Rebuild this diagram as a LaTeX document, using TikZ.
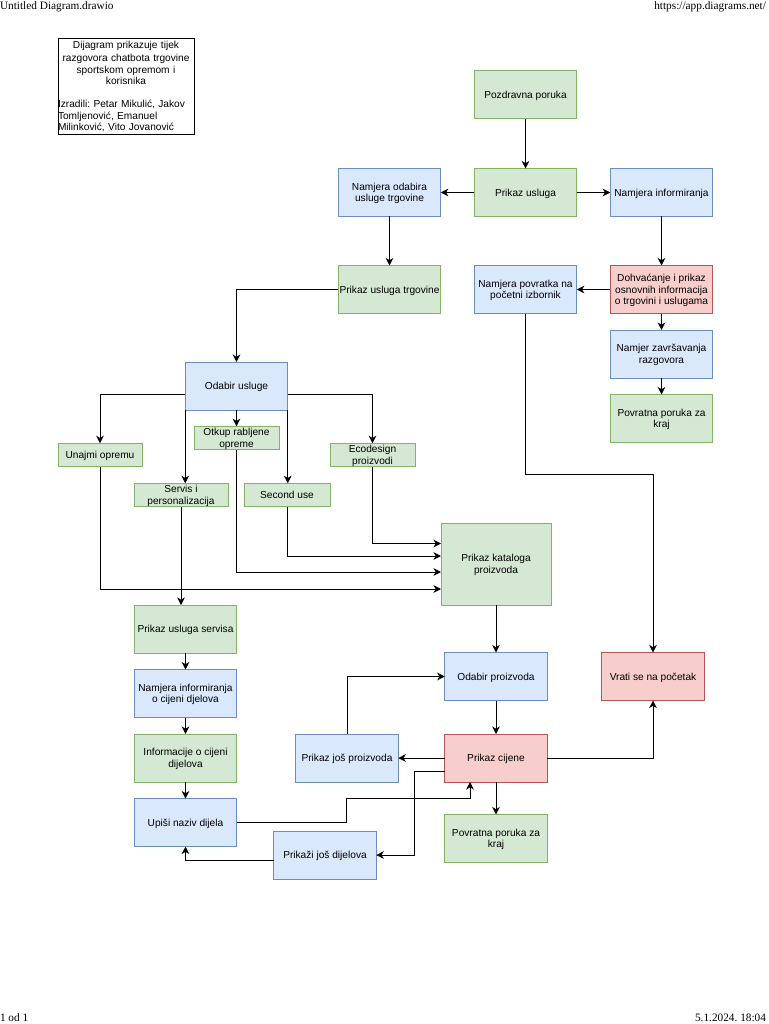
\documentclass[tikz,border=0pt]{standalone}
\usepackage{fontspec}
\setmainfont{Liberation Sans}
\newfontfamily\pagefont{Liberation Serif}
\usetikzlibrary{arrows.meta}
\definecolor{gfill}{HTML}{D5E8D4}\definecolor{gline}{HTML}{82B366}
\definecolor{bfill}{HTML}{DAE8FC}\definecolor{bline}{HTML}{6C8EBF}
\definecolor{rfill}{HTML}{F8CECC}\definecolor{rline}{HTML}{B85450}
\frenchspacing
\tikzset{
  x=1pt,y=-1pt,
  every node/.style={outer sep=0pt,inner sep=0pt,align=center,font=\fontsize{10.15}{11.6}\selectfont,text=black},
  big/.style={minimum width=102.5pt,minimum height=48pt,line width=1pt,text depth=0pt},
  small/.style={minimum height=23.5pt,line width=1pt,text depth=0pt},
  gbox/.style={draw=gline,fill=gfill},
  bbox/.style={draw=bline,fill=bfill},
  rbox/.style={draw=rline,fill=rfill},
  pagetext/.style={font=\pagefont\fontsize{11.3}{12}\selectfont},
  conn/.style={draw=black,line width=1pt,-{Stealth[length=7.5pt,width=7.5pt,inset=2.2pt]}},
}
\begin{document}
\begin{tikzpicture}
\useasboundingbox (0,0) rectangle (768,1024);
\node[pagetext,anchor=west] (hl) at (0,6.7) {Untitled Diagram.drawio};
\node[pagetext,anchor=east] (hr) at (766,6.7) {https://app.diagrams.net/};
\node[pagetext,anchor=west] (fl) at (0,1017.7) {1 od 1};
\node[pagetext,anchor=east] (fr) at (766,1017.7) {5.1.2024. 18:04};

\node[draw=black,line width=1pt,anchor=north west,minimum width=136pt,minimum height=96.5pt,text width=136pt,align=left] (legend) at (58,38.5)
 {\vspace{1pt}{\centering Dijagram prikazuje tijek\\razgovora chatbota trgovine\\sportskom opremom i\\korisnika\par}\vspace{11.3pt}{\raggedright Izradili: Petar Mikulić, Jakov\\Tomljenović, Emanuel\\Milinković, Vito Jovanović\par}};

\node[big,gbox] (pozdrav) at (525.5,95) {Pozdravna poruka};
\node[big,gbox] (usluga) at (525.5,192.5) {Prikaz usluga};
\node[big,bbox] (nodabira) at (389.5,192.5) {Namjera odabira\\usluge trgovine};
\node[big,bbox] (ninf) at (661.5,192.5) {Namjera informiranja};
\node[big,gbox] (ptrg) at (389.5,289.5) {Prikaz usluga trgovine};
\node[big,bbox] (npov) at (525.5,289.5) {Namjera povratka na\\početni izbornik};
\node[big,rbox] (dohv) at (661.5,289.5) {Dohvaćanje i prikaz\\osnovnih informacija\\o trgovini i uslugama};
\node[big,bbox] (nzav) at (661.5,354) {Namjer završavanja\\razgovora};
\node[big,gbox] (pkraj) at (661.5,418.5) {Povratna poruka za\\kraj};

\node[big,bbox] (ousl) at (236.5,386) {Odabir usluge};
\node[small,gbox,minimum width=85pt] (otkup) at (236.5,438) {Otkup rabljene\\opreme};
\node[small,gbox,minimum width=84pt] (unajmi) at (100,455) {Unajmi opremu};
\node[small,gbox,minimum width=85pt] (eco) at (372.5,455) {Ecodesign\\proizvodi};
\node[small,gbox,minimum width=94pt] (servis) at (181,495) {Servis i\\personalizacija};
\node[small,gbox,minimum width=86pt] (second) at (287,495) {Second use};
\node[gbox,line width=1pt,text depth=0pt,minimum width=110pt,minimum height=82pt] (kat) at (496,564) {Prikaz kataloga\\proizvoda};

\node[big,gbox] (pserv) at (185.5,629) {Prikaz usluga servisa};
\node[big,bbox] (ncij) at (185.5,693.5) {Namjera informiranja\\o cijeni djelova};
\node[big,gbox] (icij) at (185.5,758) {Informacije o cijeni\\dijelova};
\node[big,bbox] (upisi) at (185.5,822.5) {Upiši naziv dijela};
\node[big,bbox] (jdij) at (325,855) {Prikaži još dijelova};
\node[big,bbox] (jpro) at (347,758) {Prikaz još proizvoda};
\node[big,bbox] (opro) at (496,676.5) {Odabir proizvoda};
\node[big,rbox] (cij) at (496,758) {Prikaz cijene};
\node[big,gbox] (kraj) at (496,838.5) {Povratna poruka za\\kraj};
\node[big,rbox] (vrati) at (653,676.5) {Vrati se na početak};

\draw[conn] (pozdrav) -- (usluga);
\draw[conn] (usluga) -- (nodabira);
\draw[conn] (usluga) -- (ninf);
\draw[conn] (ninf) -- (dohv);
\draw[conn] (dohv) -- (npov);
\draw[conn] (dohv) -- (nzav);
\draw[conn] (nzav) -- (pkraj);
\draw[conn] (nodabira) -- (ptrg);
\draw[conn] (ptrg.west) -| (ousl.north);
\draw[conn] ([yshift=-8pt]ousl.west) -| (unajmi.north);
\draw[conn] ([yshift=-8pt]ousl.east) -| (eco.north);
\draw[conn] (ousl) -- (otkup);
\draw[conn] (ousl.south west) -- (ousl.south west |- servis.north);
\draw[conn] (ousl.south east) -- (ousl.south east |- second.north);
\draw[conn] (unajmi.south) |- ([yshift=-25pt]kat.west);
\draw[conn] (otkup.south) |- ([yshift=-8pt]kat.west);
\draw[conn] (second.south) |- ([yshift=8pt]kat.west);
\draw[conn] (eco.south) |- ([yshift=20.5pt]kat.west);
\draw[conn] (servis.south) -- (servis.south |- pserv.north);
\draw[conn] (pserv) -- (ncij);
\draw[conn] (ncij) -- (icij);
\draw[conn] (icij) -- (upisi);
\draw[conn] (kat) -- (opro);
\draw[conn] (opro) -- (cij);
\draw[conn] (cij) -- (kraj);
\draw[conn] (cij) -- (jpro);
\draw[conn] (jpro.north) |- (opro.west);
\draw[conn] (cij.east) -| (vrati.south);
\draw[conn] (npov.south) -- ++(0,161) -| (vrati.north);
\draw[conn] ([yshift=-13pt]cij.west) -- ++(-30,0) |- (jdij.east);
\draw[conn] (upisi.east) -- ++(110,0) -- ++(0,-24.5) -| ([xshift=-26pt]cij.south);
\draw[conn] ([yshift=-5pt]jdij.west) -| (upisi.south);
\end{tikzpicture}
\end{document}
